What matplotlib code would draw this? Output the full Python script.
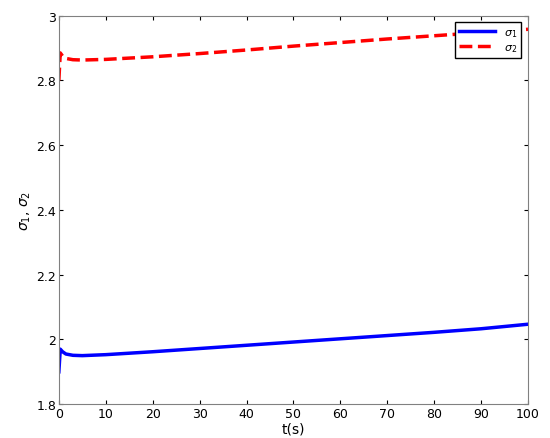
import matplotlib
matplotlib.use("Agg")
import matplotlib.pyplot as plt

t = [0, 0.3, 0.8, 1.5, 3, 5, 10, 20, 30, 40, 50, 60, 70, 80, 90, 100]
sigma1 = [1.90, 1.97, 1.962, 1.955, 1.951, 1.950, 1.953, 1.962, 1.972, 1.982, 1.992, 2.002, 2.012, 2.022, 2.033, 2.047]
sigma2 = [2.80, 2.885, 2.875, 2.868, 2.864, 2.863, 2.865, 2.873, 2.883, 2.894, 2.906, 2.917, 2.928, 2.938, 2.948, 2.958]

fig = plt.figure(figsize=(5.5, 4.39), dpi=100)
ax = fig.add_axes([0.107, 0.077, 0.853, 0.885])
ax.plot(t, sigma1, color='#0000ff', lw=2.5, label=r'$\sigma_1$')
ax.plot(t, sigma2, color='#ff0000', lw=2.5, ls='--', label=r'$\sigma_2$')
ax.set_xlim(0, 100)
ax.set_ylim(1.8, 3.0)
ax.set_xticks(range(0, 101, 10))
ax.set_yticks([1.8, 2, 2.2, 2.4, 2.6, 2.8, 3])
ax.set_yticklabels(['1.8', '2', '2.2', '2.4', '2.6', '2.8', '3'])
ax.tick_params(direction='in', labelsize=9, top=True, right=True, length=3, pad=2)
ax.set_xlabel('t(s)', fontsize=10, labelpad=1)
ax.set_ylabel(r'$\sigma_1$, $\sigma_2$', fontsize=10, labelpad=2)
for s in ax.spines.values():
    s.set_color('#808080')
ax.legend(loc='upper right', fontsize=8, fancybox=False, edgecolor='black', framealpha=1,
          handlelength=3.2, borderaxespad=0.6, labelspacing=0.3)
fig.savefig('out.png', dpi=100)
